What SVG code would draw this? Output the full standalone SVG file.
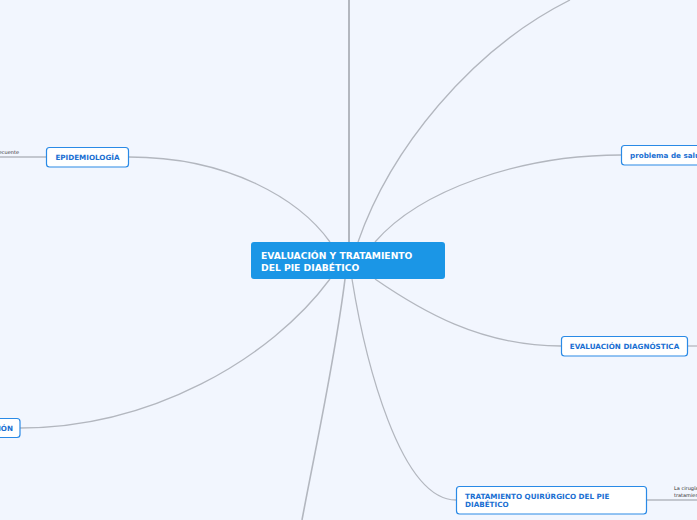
<svg xmlns="http://www.w3.org/2000/svg" width="697" height="520" viewBox="0 0 697 520">
<style>
.bg{fill:#f2f6fe}
.c{fill:none;stroke:#b3b7bf;stroke-width:1.3}
.n{fill:#ffffff;stroke:#2a8ae6;stroke-width:1.2}
.t{font-family:"DejaVu Sans",Verdana,sans-serif;font-weight:bold;font-size:7.2px;fill:#1a6fd2}
.ct{font-family:"DejaVu Sans",Verdana,sans-serif;font-weight:bold;font-size:9.2px;fill:#ffffff}
.s{font-family:"DejaVu Sans",Verdana,sans-serif;font-size:5px;fill:#333333}
</style>
<rect class="bg" x="0" y="0" width="697" height="520"/>
<g id="connectors">
<path class="c" d="M349,0 L349,242" style="stroke-width:2"/>
<path class="c" d="M358,242 C390,150 470,50 570,0"/>
<path class="c" d="M129,157 C230,157 300,200 330,242"/>
<path class="c" d="M621,155 C520,155 420,190 375,242"/>
<path class="c" d="M561,346 C480,346 420,310 375,279"/>
<path class="c" d="M456,500 C400,500 365,360 352,279"/>
<path class="c" d="M345,279 C335,360 315,450 302,520" style="stroke-width:1.6"/>
<path class="c" d="M20,428 C150,428 270,360 330,279"/>
<path class="c" d="M0,157 L46,157"/>
<path class="c" d="M688,346 L697,346"/>
<path class="c" d="M647,500 L697,500"/>
</g>
<g id="center">
<rect x="251" y="242" width="194" height="37" rx="3" fill="#1b96e6"/>
<text class="ct" x="261" y="259">EVALUACIÓN Y TRATAMIENTO</text>
<text class="ct" x="261" y="271">DEL PIE DIABÉTICO</text>
</g>
<g id="epidemiologia">
<rect class="n" x="46.5" y="147.5" width="82" height="19.5" rx="3"/>
<text class="t" x="87.5" y="160" text-anchor="middle">EPIDEMIOLOGÍA</text>
<text class="s" x="19" y="153.5" text-anchor="end">frecuente</text>
</g>
<g id="problema">
<rect class="n" x="621.5" y="145.5" width="90" height="19.5" rx="3"/>
<text class="t" x="630" y="158">problema de salud</text>
</g>
<g id="evaluacion">
<rect class="n" x="561.5" y="336.5" width="126" height="19.5" rx="3"/>
<text class="t" x="624.5" y="349" text-anchor="middle">EVALUACIÓN DIAGNÓSTICA</text>
</g>
<g id="tratamiento">
<rect class="n" x="456.5" y="486.5" width="190" height="27.5" rx="3"/>
<text class="t" x="465" y="498.5">TRATAMIENTO QUIRÚRGICO DEL PIE</text>
<text class="t" x="465" y="507">DIABÉTICO</text>
<text class="s" x="674" y="490">La cirugía</text>
<text class="s" x="674" y="496.5">tratamiento</text>
</g>
<g id="clasificacion">
<rect class="n" x="-60" y="418.5" width="80" height="19" rx="3"/>
<text class="t" x="13" y="430.5" text-anchor="end">CLASIFICACIÓN</text>
</g>
</svg>
